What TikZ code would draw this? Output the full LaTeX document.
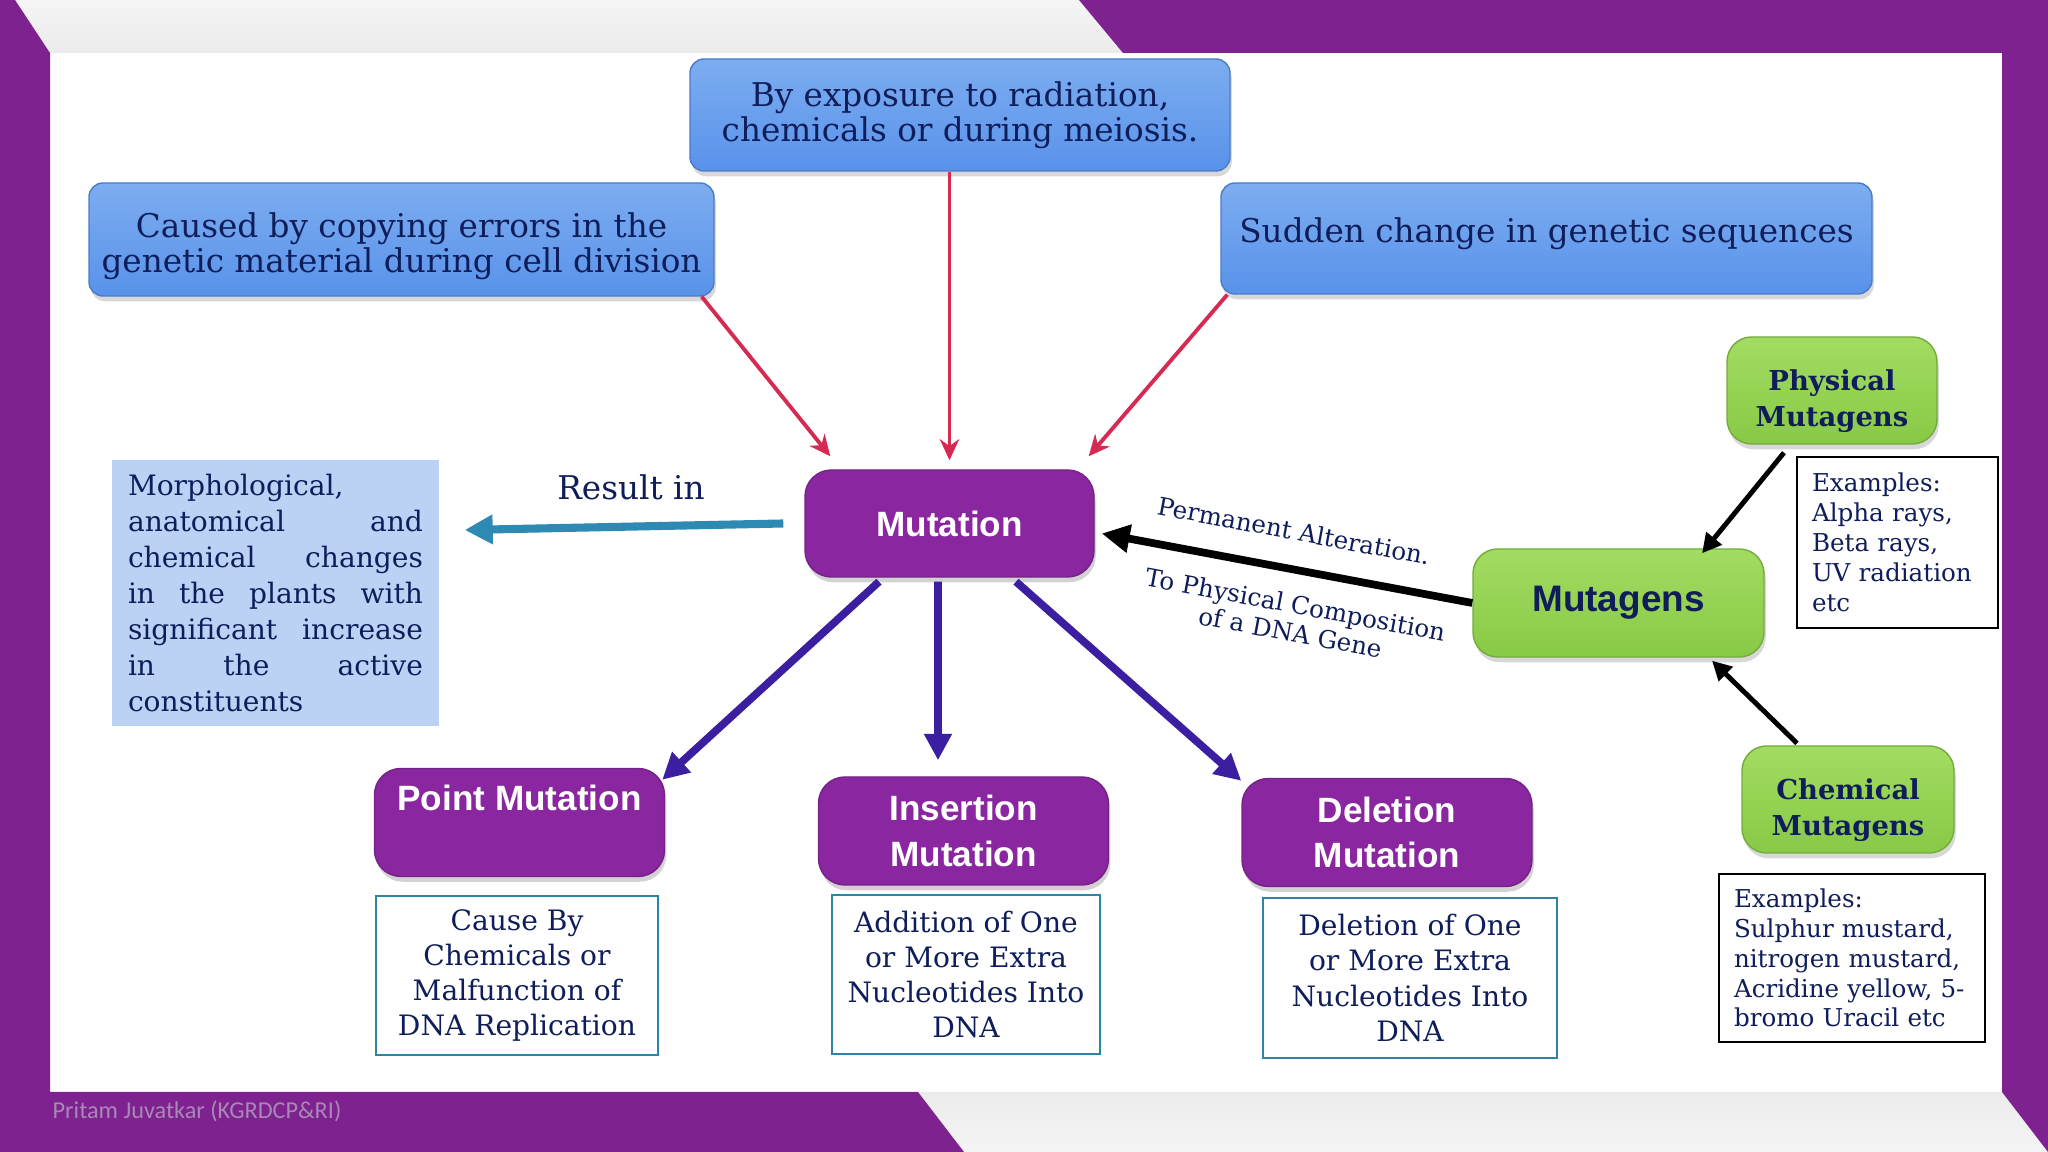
\documentclass[tikz,border=0pt]{standalone}
\usepackage{fontspec}
\setmainfont{DejaVu Serif}
\setsansfont{Liberation Sans}
\newfontfamily\creditfont{Carlito}
\usepackage{xcolor}
\usepackage{tikz}
\usetikzlibrary{arrows.meta, positioning, shadows}
\definecolor{frpurple}{HTML}{7E2290}
\definecolor{frgray}{HTML}{EBEBEB}
\definecolor{mnavy}{HTML}{0F1E5A}
\definecolor{mblue}{HTML}{5892EA}
\definecolor{mbluetop}{HTML}{7DADF0}
\definecolor{mblueedge}{HTML}{4A7BCB}
\definecolor{mpurple}{HTML}{8A27A0}
\definecolor{mgreen}{HTML}{88C946}
\definecolor{mgreentop}{HTML}{A3DC62}
\definecolor{mred}{HTML}{D62A52}
\definecolor{mindigo}{HTML}{3B1FA0}
\definecolor{mteal}{HTML}{2E89B3}
\definecolor{mpale}{HTML}{BCD2F5}
\definecolor{mframe}{HTML}{2D84A6}
\definecolor{mcredit}{HTML}{A987B6}

\begin{document}
\begin{tikzpicture}[
  cause/.style={rectangle, draw=mblueedge, top color=mbluetop, bottom color=mblue,
    rounded corners=4pt, text=mnavy, align=center, inner sep=0pt,
    font=\fontsize{9.3}{10}\selectfont,
    drop shadow={shadow xshift=0.5pt, shadow yshift=-1.5pt, opacity=0.3}},
  kind/.style={rectangle, draw=mpurple!85!black, fill=mpurple, rounded corners=7.5pt,
    text=white, align=center, inner sep=0pt, minimum width=2.9cm, minimum height=1.08cm,
    font=\sffamily\bfseries\fontsize{10}{13}\selectfont,
    drop shadow={shadow xshift=0.5pt, shadow yshift=-1.5pt, opacity=0.35}},
  agent/.style={rectangle, draw=mgreen!85!black, top color=mgreentop, bottom color=mgreen,
    rounded corners=7pt, text=mnavy, align=center, inner sep=0pt, minimum height=1.07cm,
    font=\bfseries\fontsize{7.8}{10.4}\selectfont,
    drop shadow={shadow xshift=0.5pt, shadow yshift=-1.5pt, opacity=0.3}},
  note/.style={rectangle, draw=mframe, line width=0.8pt, fill=white, text=mnavy,
    align=center, inner sep=0pt, font=\fontsize{8}{10}\selectfont},
  example/.style={rectangle, draw=black, line width=0.7pt, fill=white, text=mnavy,
    align=left, inner xsep=0.15cm, inner ysep=0pt, font=\fontsize{7}{8.5}\selectfont},
  feed/.style={draw=mred, line width=1.1pt, -{Stealth[length=6pt, width=5.5pt]}},
  branch/.style={draw=mindigo, line width=2.2pt, -{Triangle[length=7.5pt, width=7.5pt]}},
  link/.style={draw=black, line width=1.4pt, -{Triangle[length=5.5pt, width=5.5pt]}},
  tag/.style={text=mnavy, font=\fontsize{7}{8}\selectfont, align=center},
]
  \useasboundingbox (0,0) rectangle (20.48,11.52);
  \fill[white] (0,0) rectangle (20.48,11.52);
  \shade[top color=frgray!50, bottom color=frgray] (0.15,11.52) -- (10.79,11.52) -- (11.23,10.99) -- (0.50,10.99) -- cycle;
  \shade[top color=frgray, bottom color=frgray!50] (9.18,0.60) -- (20.02,0.60) -- (20.48,0) -- (9.64,0) -- cycle;
  \fill[frpurple] (0,11.52) -- (0.15,11.52) -- (0.50,10.99) -- (0.50,0.60) -- (9.18,0.60) -- (9.64,0) -- (0,0) -- cycle;
  \fill[frpurple] (10.79,11.52) -- (20.48,11.52) -- (20.48,0) -- (20.02,0.60) -- (20.02,10.99) -- (11.23,10.99) -- cycle;
  \node[anchor=west, inner sep=0pt, text=mcredit, font=\creditfont\fontsize{6.9}{8}\selectfont] (credit) at (0.52,0.41) {Pritam Juvatkar (KGRDCP\&RI)};

  \node[cause, minimum width=5.40cm, minimum height=1.12cm] (expo) at (9.60,10.37) {By exposure to radiation,\\chemicals or during meiosis.};
  \node[cause, minimum width=6.25cm, minimum height=1.13cm] (copy) at (4.015,9.125) {\rule{0pt}{10.8pt}Caused by copying errors in the\\genetic material during cell division};
  \node[cause, minimum width=6.51cm, minimum height=1.11cm] (sudden) at (15.465,9.135) {Sudden change in genetic sequences\rule[-5pt]{0pt}{5pt}};

  \node[kind, minimum width=2.89cm, minimum height=1.07cm] (mut) at (9.495,6.285) {Mutation};
  \node[rectangle, fill=mpale, text=mnavy, text width=2.95cm, minimum height=2.66cm,
    inner xsep=0.16cm, inner ysep=0pt, align=left, font=\fontsize{8}{10.2}\selectfont] (effect) at (2.755,5.59)
    {Morphological,\\anatomical\hfill and\\chemical\hfill changes\\in\hfill the\hfill plants\hfill with\\significant\hfill increase\\in\hfill the\hfill active\\constituents};

  \node[kind, text height=0.3cm, text depth=0.53cm] (point) at (5.195,3.295) {Point Mutation};
  \node[kind] (insert) at (9.635,3.21) {Insertion\\Mutation};
  \node[kind] (delete) at (13.87,3.195) {Deletion\\Mutation};
  \node[note, minimum width=2.82cm, minimum height=1.59cm] (causeby) at (5.17,1.765) {Cause By\\Chemicals or\\Malfunction of\\DNA Replication};
  \node[note, minimum width=2.68cm, minimum height=1.59cm] (addition) at (9.66,1.775) {Addition of One\\or More Extra\\Nucleotides Into\\DNA};
  \node[note, minimum width=2.94cm, minimum height=1.60cm] (deldesc) at (14.10,1.74) {Deletion of One\\or More Extra\\Nucleotides Into\\DNA};

  \node[agent, minimum width=2.10cm] (physical) at (18.32,7.615) {\rule{0pt}{12pt}Physical\\Mutagens};
  \node[agent, minimum width=2.91cm, minimum height=1.08cm, font=\sffamily\bfseries\fontsize{10.5}{12}\selectfont] (mutagens) at (16.185,5.49) {Mutagens};
  \node[agent, minimum width=2.12cm] (chemical) at (18.48,3.525) {\rule{0pt}{12pt}Chemical\\Mutagens};
  \node[example, text width=1.71cm, minimum height=1.71cm] (physex) at (18.975,6.095) {Examples:\\Alpha rays,\\Beta rays,\\UV radiation\\etc};
  \node[example, text width=2.36cm, minimum height=1.68cm] (chemex) at (18.52,1.94) {Examples:\\Sulphur mustard,\\nitrogen mustard,\\Acridine yellow, 5-\\bromo Uracil etc};

  \draw[feed] ([xshift=-0.13cm]copy.south east) -- ([xshift=0.26cm, yshift=0.13cm]mut.north west);
  \draw[feed] (mut.north |- expo.south) -- ([yshift=0.09cm]mut.north);
  \draw[feed] ([xshift=0.07cm]sudden.south west) -- ([xshift=-0.06cm, yshift=0.13cm]mut.north east);

  \draw[draw=mteal, line width=2.3pt, -{Triangle[length=0.28cm, width=0.28cm]}]
    ([xshift=-0.21cm]mut.west) -- ([xshift=0.25cm, yshift=0.63cm]effect.east)
    node[midway, above=0.11cm, xshift=0.07cm, text=mnavy, font=\fontsize{9.3}{10}\selectfont] {Result in};

  \draw[branch] ([xshift=-0.705cm, yshift=-0.04cm]mut.south) -- ([xshift=-0.03cm, yshift=-0.12cm]point.north east);
  \draw[branch, shorten >=0.16cm] ([xshift=-0.115cm, yshift=-0.04cm]mut.south) -- ([xshift=-0.255cm]insert.north);
  \draw[branch] ([xshift=0.665cm, yshift=-0.04cm]mut.south) -- ([yshift=-0.03cm]delete.north west);

  \draw[link] ([xshift=-0.48cm, yshift=-0.08cm]physical.south) -- ([xshift=0.835cm, yshift=-0.05cm]mutagens.north);
  \draw[link] ([xshift=-0.51cm, yshift=0.02cm]chemical.north) -- ([xshift=0.935cm, yshift=-0.03cm]mutagens.south);
  \draw[link, line width=2.2pt, -{Triangle[length=0.28cm, width=0.27cm]}]
    (mutagens.west) -- ([xshift=0.07cm, yshift=-0.1cm]mut.east)
    node[pos=0.5, sloped, above=0.13cm, tag] {Permanent Alteration.}
    node[pos=0.46, sloped, below=0.09cm, tag] {To Physical Composition\\of a DNA Gene};
\end{tikzpicture}
\end{document}
